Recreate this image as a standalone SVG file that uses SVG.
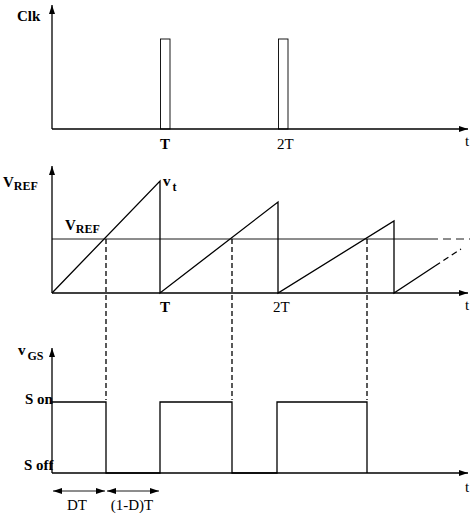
<svg xmlns="http://www.w3.org/2000/svg" width="474" height="513" viewBox="0 0 474 513">
<style>
.ax{fill:none;stroke:#000;stroke-width:1.3}
.ln{fill:none;stroke:#000;stroke-width:1.3}
.th{fill:none;stroke:#000;stroke-width:0.9}
.ds{fill:none;stroke:#000;stroke-width:1.3;stroke-dasharray:5,3}
text{font-family:"Liberation Serif","Times New Roman",serif;fill:#000}
.b{font-weight:bold;font-size:15px}
.r{font-size:15px}
</style>
<defs>
<marker id="ah" markerWidth="10" markerHeight="8" refX="9" refY="4" orient="auto" markerUnits="userSpaceOnUse">
<path d="M0,1 L9,4 L0,7 Z" fill="#000"/>
</marker>
</defs>
<g id="clk-panel">
<line class="ax" x1="52" y1="129" x2="52" y2="5" marker-end="url(#ah)"/>
<line class="ax" x1="52" y1="129" x2="468" y2="129" marker-end="url(#ah)"/>
<rect class="th" x="160.5" y="39" width="9.5" height="90"/>
<rect class="th" x="278.5" y="39" width="9.5" height="90"/>
<text class="b" x="17" y="21">Clk</text>
<text class="b" x="160" y="149">T</text>
<text class="r" x="277" y="149" font-size="16">2T</text>
<text class="r" x="465" y="146">t</text>
</g>
<g id="ramp-panel">
<line class="ax" x1="52" y1="293" x2="52" y2="166" marker-end="url(#ah)"/>
<line class="ax" x1="52" y1="293" x2="468" y2="293" marker-end="url(#ah)"/>
<line class="th" x1="52" y1="239" x2="430" y2="239"/>
<line class="th" x1="430" y1="239" x2="470" y2="239" stroke-dasharray="8,5"/>
<polyline class="ln" points="52,293 160,181 160,293 278,202 278,293 394,221 394,293 435,266"/>
<line class="ln" x1="435" y1="266" x2="461" y2="249" stroke-dasharray="6,4"/>
<text class="b" x="3" y="187" font-size="17">V<tspan font-size="12" dy="3">REF</tspan></text>
<text class="b" x="65" y="230" font-size="17">V<tspan font-size="12" dy="3">REF</tspan></text>
<text class="b" x="163" y="186" font-size="16">v<tspan font-size="12" dy="5" dx="2">t</tspan></text>
<text class="b" x="160" y="312">T</text>
<text class="r" x="273" y="312" font-size="16">2T</text>
<text class="r" x="465" y="310">t</text>
</g>
<g id="vgs-panel">
<line class="ax" x1="52" y1="473" x2="52" y2="348" marker-end="url(#ah)"/>
<line class="ax" x1="52" y1="473" x2="468" y2="473" marker-end="url(#ah)"/>
<polyline class="ln" points="52,402 106,402 106,473 160,473 160,402 232,402 232,473 277,473 277,402 367,402 367,473"/>
<text class="b" x="18" y="355" font-size="16">v<tspan font-size="12" dy="5" dx="2">GS</tspan></text>
<text class="b" x="25" y="404" font-size="13.5">S on</text>
<text class="b" x="24" y="470" font-size="13.5">S off</text>
<text class="r" x="465" y="492">t</text>
</g>
<g id="connectors">
<line class="ds" x1="106" y1="239" x2="106" y2="400"/>
<line class="ds" x1="232" y1="239" x2="232" y2="400"/>
<line class="ds" x1="367" y1="239" x2="367" y2="400"/>
<line class="th" x1="79" y1="491" x2="53" y2="491" marker-end="url(#ah)"/>
<line class="th" x1="79" y1="491" x2="105" y2="491" marker-end="url(#ah)"/>
<line class="th" x1="133" y1="491" x2="107" y2="491" marker-end="url(#ah)"/>
<line class="th" x1="133" y1="491" x2="159" y2="491" marker-end="url(#ah)"/>
<text class="r" x="77" y="510" text-anchor="middle" font-size="15">DT</text>
<text class="r" x="132" y="510" text-anchor="middle" font-size="14.5">(1-D)T</text>
</g>
</svg>
